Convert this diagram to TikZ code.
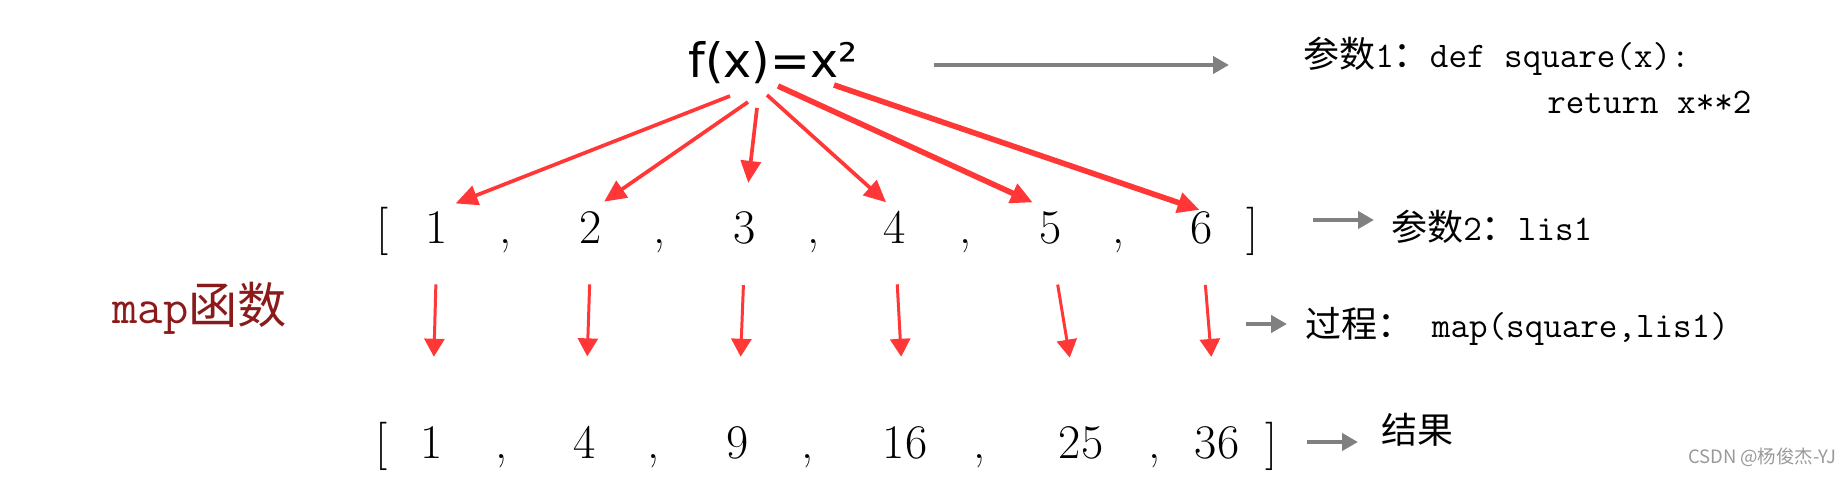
\documentclass[tikz,border=0pt]{standalone}
\usepackage{fontspec}
\usepackage{tikz}
\usetikzlibrary{arrows.meta}
\newfontfamily\cjk{Noto Sans CJK SC}
\newfontfamily\fxfont{DejaVu Sans}
\definecolor{arred}{RGB}{255,55,55}
\definecolor{argray}{RGB}{128,128,128}
\definecolor{mapred}{RGB}{139,26,26}
\tikzset{
    FX/.style ={anchor=base, inner sep=0pt, font=\fxfont\fontsize{27}{32}\selectfont},
    DG/.style ={anchor=base, inner sep=0pt, font=\fontsize{27.5}{32}\selectfont},
    TX/.style ={anchor=base west, inner sep=0pt, font=\ttfamily\fontsize{20.5}{24}\selectfont},
    RA/.style ={draw=arred, line width=2.1pt, -{Triangle[length=0.44cm,width=0.4cm]}},
    RB/.style ={RA, line width=3.2pt},
    DA/.style ={draw=arred, line width=1.7pt, shorten <=0.82cm, shorten >=1.38cm, -{Triangle[length=0.36cm,width=0.4cm]}},
    GA/.style ={draw=argray, line width=2.3pt, -{Triangle[length=0.32cm,width=0.34cm]}}}

\begin{document}
\begin{tikzpicture}
        \useasboundingbox (0,0) rectangle (36.94,9.6);
        \node[FX] (fx) at(15.46,8.06){f(x)=x²};
        \node[TX] (p1) at(26.06,8.26){{\cjk 参数}1{\cjk ：}def square(x):};
        \node[TX] (p1b) at(30.94,7.34){return x**2};
        \node[DG] (b1l) at(7.66,4.74){[};
        \node[DG] (d1) at(8.74,4.74){1};
        \node[DG] (k1) at(10.12,4.74){,};
        \node[DG] (d2) at(11.82,4.74){2};
        \node[DG] (k2) at(13.20,4.74){,};
        \node[DG] (d3) at(14.90,4.74){3};
        \node[DG] (k3) at(16.28,4.74){,};
        \node[DG] (d4) at(17.90,4.74){4};
        \node[DG] (k4) at(19.32,4.74){,};
        \node[DG] (d5) at(21.02,4.74){5};
        \node[DG] (k5) at(22.38,4.74){,};
        \node[DG] (d6) at(24.04,4.74){6};
        \node[DG] (b1r) at(25.06,4.74){]};
        \node[TX] (p2) at(27.82,4.8){{\cjk 参数}2{\cjk ：}lis1};
        \node[TX, font=\ttfamily\fontsize{28}{32}\selectfont, text=mapred] (mp) at(2.24,3.14){map{\cjk 函数}};
        \node[TX] (p3) at(26.1,2.86){{\cjk 过程：} map(square,lis1)};
        \node[DG] (b2l) at(7.64,0.44){[};
        \node[DG] (r1) at(8.64,0.44){1};
        \node[DG] (m1) at(10.04,0.44){,};
        \node[DG] (r2) at(11.70,0.44){4};
        \node[DG] (m2) at(13.08,0.44){,};
        \node[DG] (r3) at(14.76,0.44){9};
        \node[DG] (m3) at(16.16,0.44){,};
        \node[DG] (r4) at(18.10,0.44){16};
        \node[DG] (m4) at(19.60,0.44){,};
        \node[DG] (r5) at(21.62,0.44){25};
        \node[DG] (m5) at(23.10,0.44){,};
        \node[DG] (r6) at(24.34,0.44){36};
        \node[DG] (b2r) at(25.44,0.44){]};
        \node[TX] (p4) at(27.62,0.74){\cjk 结果};
        \node[inner sep=0pt, text=gray!80, font=\cjk\fontsize{10.5}{12}\selectfont] (wm) at(35.24,0.46){CSDN @杨俊杰-YJ};
        \coordinate (o1) at(14.60,7.68);
        \coordinate (o2) at(14.96,7.56);
        \coordinate (o3) at(15.14,7.44);
        \coordinate (o4) at(15.34,7.70);
        \coordinate (o5) at(15.56,7.88);
        \coordinate (o6) at(16.68,7.90);
        \draw[RA, shorten >=0.4cm] (o1) -- (d1.north);
        \draw[RA, shorten >=0.32cm] (o2) -- (d2.north);
        \draw[RA, shorten >=0.56cm] (o3) -- (d3.north);
        \draw[RA, shorten >=0.24cm] (o4) -- (d4.north);
        \draw[RB, shorten >=0.4cm] (o5) -- (d5.north);
        \draw[RB, shorten >=0.05cm] (o6) -- (d6.north);
        \draw[DA] (d1.south) -- (r1.north);
        \draw[DA] (d2.south) -- (r2.north);
        \draw[DA] (d3.south) -- (r3.north);
        \draw[DA] (d4.south) -- (r4.north);
        \draw[DA] (d5.south) -- (r5.north);
        \draw[DA] (d6.south) -- (r6.north);
        \coordinate (g1) at(18.68,8.3);
        \coordinate (g2) at(26.26,5.2);
        \coordinate (g3) at(24.92,3.12);
        \coordinate (g4) at(26.14,0.76);
        \draw[GA, shorten >=1.48cm] (g1) -- (g1 -| p1.west);
        \draw[GA, shorten >=0.34cm] (g2) -- (g2 -| p2.west);
        \draw[GA, shorten >=0.36cm] (g3) -- (g3 -| p3.west);
        \draw[GA, shorten >=0.46cm] (g4) -- (g4 -| p4.west);
    \end{tikzpicture}
\end{document}
